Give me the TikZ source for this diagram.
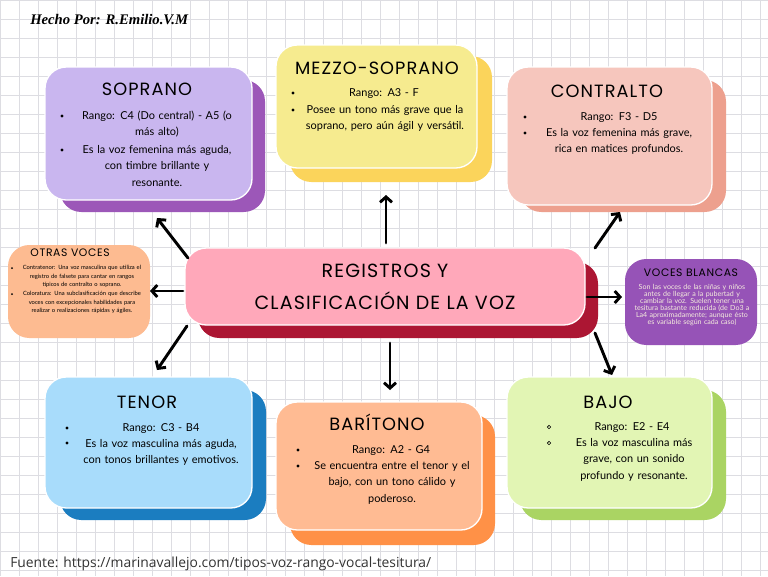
\documentclass[tikz,border=0pt]{standalone}
\usepackage{fontspec}
\setmainfont{Lato}
\newfontfamily\titlefont[LetterSpace=6]{Poppins}
\newfontfamily\srcfont{Open Sans}
\newfontfamily\signfont{Liberation Serif}
\usetikzlibrary{arrows.meta}
\definecolor{sopF}{HTML}{C9B6EF}\definecolor{sopS}{HTML}{9C57B8}
\definecolor{mezF}{HTML}{F6EB8F}\definecolor{mezS}{HTML}{FBD45B}
\definecolor{conF}{HTML}{F6C6BD}\definecolor{conS}{HTML}{EDA08E}
\definecolor{cenF}{HTML}{FFA8BA}\definecolor{cenS}{HTML}{AC1633}
\definecolor{otrF}{HTML}{FDBB91}
\definecolor{blaF}{HTML}{9653B7}\definecolor{blaT}{HTML}{F5ECDD}
\definecolor{tenF}{HTML}{A8DCFB}\definecolor{tenS}{HTML}{1B7DC0}
\definecolor{barF}{HTML}{FFBB93}\definecolor{barS}{HTML}{FF9147}
\definecolor{bajF}{HTML}{E2F5B4}\definecolor{bajS}{HTML}{AAD463}
\definecolor{gridc}{HTML}{DDDDE2}
\newcommand\pbox[6]{\node[#6, anchor=north west, inner sep=0pt, outer sep=0pt,
  minimum width={(#4-#2)*0.75pt}, minimum height={(#5-#3)*0.75pt}] (#1) at (#2,#3) {};}
\tikzset{
  shade box/.style={rounded corners=16pt, fill=#1},
  front box/.style={rounded corners=16pt, fill=#1, draw=white, line width=1pt},
  ttl/.style={font=\titlefont\fontsize{13.3}{16}\selectfont, anchor=base, inner sep=0pt},
  body/.style={font=\fontsize{8.2}{12.4}\selectfont, align=center, anchor=base, inner sep=0pt},
  dot/.style={circle, fill=black, inner sep=0pt, minimum size=2.6pt},
  odot/.style={circle, draw=black, line width=0.5pt, inner sep=0pt, minimum size=2.6pt},
  arr/.style={line width=2.2pt, line cap=round, -{Straight Barb[length=4pt,width=9pt,line width=2.2pt]}},
}
\begin{document}
\begin{tikzpicture}[x=0.75pt,y=-0.75pt]
\useasboundingbox (0,0) rectangle (768,576);
\fill[white] (0,0) rectangle (768,576);
\foreach \gx in {0,19,...,768} {\draw[gridc, line width=0.4pt] (\gx,0) -- (\gx,576);}
\foreach \gy in {0,19,...,576} {\draw[gridc, line width=0.4pt] (0,\gy) -- (768,\gy);}

% header
\node[anchor=west, font=\signfont\itshape\bfseries\fontsize{11}{13}\selectfont, inner sep=0pt] (sign) at (30,20) {Hecho Por: R.Emilio.V.M};
\node[anchor=base west, font=\srcfont\fontsize{10.4}{12}\selectfont, text=black!80, inner sep=0pt] (src) at (10,567) {Fuente: https://marinavallejo.com/tipos-voz-rango-vocal-tesitura/};

% boxes
\pbox{sopS}{60}{80}{265}{212}{shade box=sopS}
\pbox{sop}{45}{67}{252}{200}{front box=sopF}
\pbox{mezS}{290}{56}{492}{182}{shade box=mezS}
\pbox{mez}{276}{45}{477}{168}{front box=mezF}
\pbox{conS}{520}{80}{726}{212}{shade box=conS}
\pbox{con}{507}{67}{712}{205}{front box=conF}
\pbox{cenS}{198}{262}{598}{338}{shade box=cenS}
\pbox{cen}{185}{248}{585}{325}{front box=cenF}
\pbox{otr}{8}{245}{150}{338}{shade box=otrF}
\pbox{bla}{625}{259}{757}{345}{shade box=blaF}
\pbox{tenS}{60}{390}{266}{520}{shade box=tenS}
\pbox{ten}{45}{377}{252}{508}{front box=tenF}
\pbox{barS}{290}{415}{495}{545}{shade box=barS}
\pbox{bar}{276}{402}{482}{530}{front box=barF}
\pbox{bajS}{520}{390}{726}{520}{shade box=bajS}
\pbox{baj}{507}{377}{712}{508}{front box=bajF}

% central title
\node[ttl, font=\titlefont\fontsize{14.3}{18}\selectfont] (cenT1) at (385,277) {REGISTROS Y};
\node[ttl, font=\titlefont\fontsize{14.3}{18}\selectfont] (cenT2) at (385,309) {CLASIFICACIÓN DE LA VOZ};

% soprano
\node[ttl] (sopT) at (147,95) {SOPRANO};
\node[dot] (sopB1) at (62,116) {};
\node[dot] (sopB2) at (62,150) {};
\node[body, text width=124pt] (sopX1) at (157,119) {Rango: C4 (Do central) - A5 (o\\ más alto)};
\node[body, text width=124pt] (sopX2) at (157,153) {Es la voz femenina más aguda,\\ con timbre brillante y\\ resonante.};

% mezzo
\node[ttl] (mezT) at (377,74) {MEZZO-SOPRANO};
\node[dot] (mezB1) at (293,93) {};
\node[dot] (mezB2) at (293,110) {};
\node[body, text width=132pt] (mezX1) at (384,96) {Rango: A3 - F};
\node[body, text width=132pt] (mezX2) at (385,113) {Posee un tono más grave que la\\ soprano, pero aún ágil y versátil.};

% contralto
\node[ttl] (conT) at (607,97) {CONTRALTO};
\node[dot] (conB1) at (525,117) {};
\node[dot] (conB2) at (525,133) {};
\node[body, text width=132pt] (conX1) at (619,120) {Rango: F3 - D5};
\node[body, text width=132pt] (conX2) at (619,136) {Es la voz femenina más grave,\\ rica en matices profundos.};

% tenor
\node[ttl] (tenT) at (147,408) {TENOR};
\node[dot] (tenB1) at (67,428) {};
\node[dot] (tenB2) at (67,443) {};
\node[body, text width=137pt] (tenX1) at (161,431) {Rango: C3 - B4};
\node[body, text width=137pt] (tenX2) at (161,447) {Es la voz masculina más aguda,\\ con tonos brillantes y emotivos.};

% baritono
\node[ttl] (barT) at (377,430) {BARÍTONO};
\node[dot] (barB1) at (298,450) {};
\node[dot] (barB2) at (298,466) {};
\node[body, text width=137pt] (barX1) at (391,453) {Rango: A2 - G4};
\node[body, text width=137pt] (barX2) at (392,469) {Se encuentra entre el tenor y el\\ bajo, con un tono cálido y\\ poderoso.};

% bajo
\node[ttl] (bajT) at (608,408) {BAJO};
\node[odot] (bajB1) at (549,427) {};
\node[odot] (bajB2) at (549,443) {};
\node[body, text width=122pt] (bajX1) at (632,430) {Rango: E2 - E4};
\node[body, text width=122pt] (bajX2) at (634,446) {Es la voz masculina más\\ grave, con un sonido\\ profundo y resonante.};

% otras voces
\node[ttl, font=\titlefont\fontsize{8.1}{9}\selectfont] (otrT) at (70,256.8) {OTRAS VOCES};
\node[dot, minimum size=1.5pt] (otrB1) at (12,268) {};
\node[dot, minimum size=1.5pt] (otrB2) at (12,294) {};
\node[body, font=\fontsize{4.35}{6.4}\selectfont, text width=104pt] (otrX1) at (82,269.5) {Contratenor: Una voz masculina que utiliza el\\ registro de falsete para cantar en rangos\\ típicos de contralto o soprano.};
\node[body, font=\fontsize{4.35}{6.4}\selectfont, text width=104pt] (otrX2) at (82,295.5) {Coloratura: Una subclasificación que describe\\ voces con excepcionales habilidades para\\ realizar o realizaciones rápidas y ágiles.};

% voces blancas
\node[ttl, font=\titlefont\fontsize{8.1}{9}\selectfont] (blaT) at (691,276.8) {VOCES BLANCAS};
\node[body, font=\fontsize{5.3}{5.35}\selectfont, text=blaT, text width=96pt] (blaX) at (692,289) {Son las voces de las niñas y niños\\ antes de llegar a la pubertad y\\ cambiar la voz. Suelen tener una\\ tesitura bastante reducida (de Do3 a\\ La4 aproximadamente; aunque ésto\\ es variable según cada caso)};

% arrow endpoints
\coordinate (a1s) at (188,258); \coordinate (a1e) at (157,218);
\coordinate (a2s) at (386,243); \coordinate (a2e) at (386,195);
\coordinate (a3s) at (595,248); \coordinate (a3e) at (620,212);
\coordinate (a4s) at (183,291); \coordinate (a4e) at (150,291);
\coordinate (a5s) at (587,297); \coordinate (a5e) at (622,297);
\coordinate (a6s) at (187,326); \coordinate (a6e) at (157,370);
\coordinate (a7s) at (390,343); \coordinate (a7e) at (390,390);
\coordinate (a8s) at (595,333); \coordinate (a8e) at (612,375);
\foreach \i in {1,...,8} {\draw[arr] (a\i s) -- (a\i e);}
\end{tikzpicture}
\end{document}
